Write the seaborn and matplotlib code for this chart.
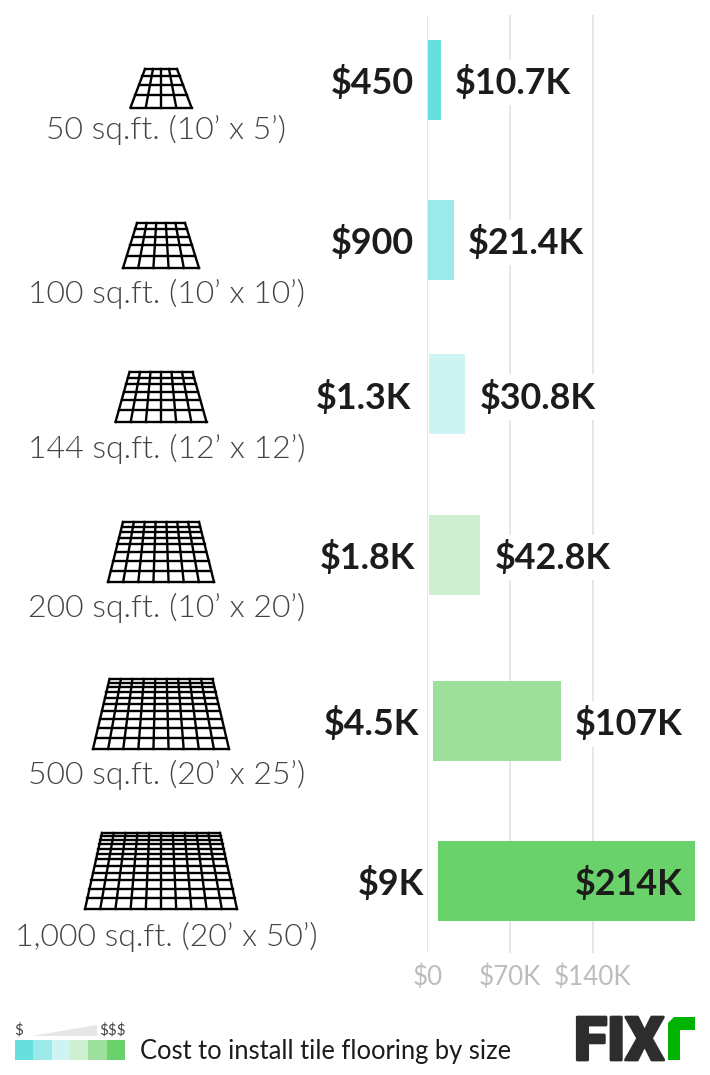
"""Cost to install tile flooring by size, drawn with seaborn."""

import matplotlib
matplotlib.use("Agg")
import matplotlib.pyplot as plt
from matplotlib.patches import Polygon, Rectangle
import matplotlib.patheffects as pe
import numpy as np
import pandas as pd
import seaborn as sns

# Chart values
sizes = ["50 sq.ft. (10’ x 5’)", "100 sq.ft. (10’ x 10’)", "144 sq.ft. (12’ x 12’)",
         "200 sq.ft. (10’ x 20’)", "500 sq.ft. (20’ x 25’)", "1,000 sq.ft. (20’ x 50’)"]
low_labels = ["$450", "$900", "$1.3K", "$1.8K", "$4.5K", "$9K"]
high_labels = ["$10.7K", "$21.4K", "$30.8K", "$42.8K", "$107K", "$214K"]
bar_start = [0.45, 0.9, 1.3, 1.8, 4.5, 9.0]      # $K
bar_end = [11.2, 22.4, 32.3, 45.0, 113.2, 226.7]  # $K
tick_values = [0, 70, 140]
tick_labels = ["$0", "$70K", "$140K"]
colors = ["#68DFDF", "#9BE9E9", "#CDF4F3", "#CEEFCF", "#9DE09C", "#69D26B"]

# Layout, in pixels of the 710x1075 picture
row_y = np.array([79.5, 239.8, 394, 554.5, 721, 881])
label_y = [130, 294, 449, 608, 775, 937]
low_right = [413.5, 414, 411, 415.5, 419, 424]
BAR_H = 80
# grid icons: top y, bottom y, top half width, bottom half width, columns, rows, row ratio
icons = [
    (69, 107.5, 16, 30.5, 4, 4, 1.2),
    (223, 268, 24, 38, 5, 5, 1.18),
    (372, 422, 31.5, 45.5, 6, 6, 1.16),
    (522, 582, 38, 53, 7, 8, 1.14),
    (679, 749, 51.5, 68, 9, 10, 1.12),
    (833, 909, 59, 76, 10, 12, 1.11),
]
W, H = 710, 1075
INK = "#1c1c1a"

sns.set_theme(style="white")
plt.rcParams["font.family"] = ["Lato", "DejaVu Sans"]

df = pd.DataFrame({"end": bar_end, "y": row_y})

fig = plt.figure(figsize=(W / 100, H / 100), dpi=100, facecolor="white")

# main axes: x in $K, y in picture pixels so the rows keep their uneven spacing
ax = fig.add_axes([427.3 / W, 1 - 953 / H, (695 - 427.3) / W, (953 - 15) / H])
sns.barplot(data=df, x="end", y="y", orient="y", native_scale=True,
            width=BAR_H / np.diff(row_y).min(), ax=ax, zorder=3, linewidth=0)
for patch, start, end, color in zip(ax.patches, bar_start, bar_end, colors):
    patch.set_x(start)
    patch.set_width(end - start)
    patch.set_facecolor(color)

ax.set_xlim(0, 226.7)
ax.set_ylim(953, 15)
ax.set_xlabel("")
ax.set_ylabel("")
ax.set_yticks([])
ax.set_xticks(tick_values, tick_labels)
ax.tick_params(axis="x", length=0, pad=8, labelsize=18.7, labelcolor="#bdbdbd")
ax.grid(axis="x", color="#e6e6e6", lw=1.4, zorder=0)
ax.set_axisbelow(True)
sns.despine(ax=ax, left=True, bottom=True)
ax.patch.set_alpha(0)

# overlay in pixel coordinates for labels, icons, legend and logo
ov = fig.add_axes([0, 0, 1, 1], facecolor="none")
ov.set_xlim(0, W)
ov.set_ylim(H, 0)
ov.axis("off")

x_px = lambda v: 427.3 + v * (695 - 427.3) / 226.7
halo = dict(facecolor="white", edgecolor="none", pad=3.5)
for i, y in enumerate(row_y):
    ov.text(low_right[i], y + 3, low_labels[i], ha="right", va="center",
            fontsize=25.8, fontweight="bold", color=INK)
    if i == len(row_y) - 1:
        ov.text(683, y + 3, high_labels[i], ha="right", va="center",
                fontsize=25.8, fontweight="bold", color=INK)
    else:
        ov.text(x_px(bar_end[i]) + 14, y + 3, high_labels[i], ha="left", va="center",
                fontsize=25.8, fontweight="bold", color=INK, bbox=halo)
    ov.text(166.5, label_y[i], sizes[i], ha="center", va="center",
            fontsize=23, fontweight=300, color="#444444")

# perspective floor icons
for top, bottom, half_top, half_bot, cols, rows, ratio in icons:
    cx = 161
    # row spacing shrinks towards the far edge
    steps = ratio ** np.arange(rows)
    fracs = np.concatenate([[0], np.cumsum(steps) / steps.sum()])
    for f in fracs:
        half = half_top + (half_bot - half_top) * f
        ov.plot([cx - half, cx + half], [top + (bottom - top) * f] * 2,
                color="black", lw=1.7, solid_capstyle="projecting")
    for k in np.linspace(-1, 1, cols + 1):
        ov.plot([cx + k * half_top, cx + k * half_bot], [top, bottom],
                color="black", lw=1.7, solid_capstyle="projecting")

# legend strip
for i, color in enumerate(colors):
    ov.add_patch(Rectangle((15 + i * 18.33, 1040), 18.33, 20, facecolor=color, edgecolor="none"))
ov.add_patch(Polygon([(32, 1036), (97, 1036), (97, 1025)], facecolor="#e6e6e6", edgecolor="none"))
ov.text(19, 1030, "$", ha="center", va="center", fontsize=11, color="#444444")
ov.text(113, 1030, "$$$", ha="center", va="center", fontsize=11, color="#444444")
ov.text(140, 1051, "Cost to install tile flooring by size", ha="left", va="center",
        fontsize=18.4, color=INK)

# logo
ov.text(574, 1060, "FIX", ha="left", va="baseline", fontsize=43.5, fontweight="black",
        family="Roboto", color="#2d2d2d",
        path_effects=[pe.withStroke(linewidth=2, foreground="#2d2d2d")])
ov.add_patch(Polygon([(668, 1060), (668, 1023), (674, 1017), (695, 1017), (695, 1030),
                      (680, 1030), (680, 1060)], facecolor="#00b300", edgecolor="none"))

fig.savefig("out.png", dpi=100)
